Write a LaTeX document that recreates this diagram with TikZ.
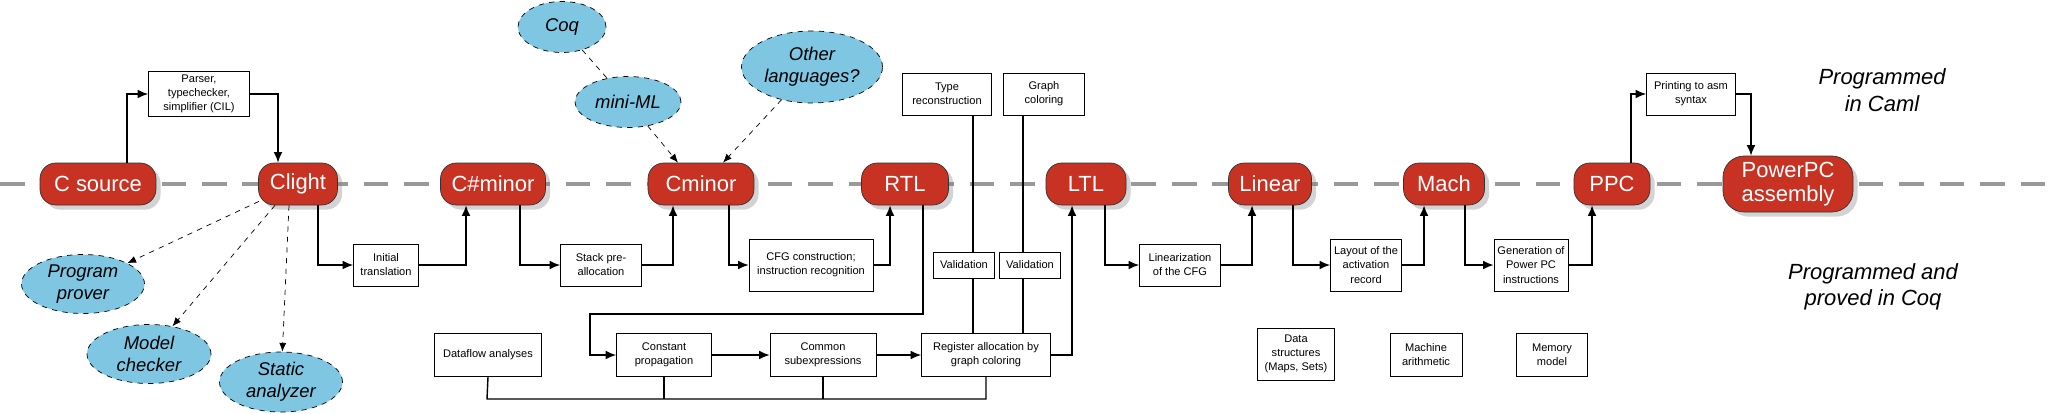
\documentclass[tikz,border=0pt]{standalone}
\usepackage{fontspec}
\setmainfont{Liberation Sans}
\usetikzlibrary{positioning,calc,shadows,shapes.geometric,arrows.meta}
\definecolor{langred}{HTML}{C73222}
\definecolor{toolblue}{HTML}{7EC6E2}

\begin{document}
\begin{tikzpicture}[
	x=0.02cm, y=-0.02cm,
	lang/.style={draw=black!80, fill=langred, text=white, rounded corners=9pt,
		minimum height=0.84cm, inner xsep=6pt, font=\fontsize{12.5}{13.5}\selectfont,
		drop shadow={opacity=0.35}, align=center},
	pass/.style={draw, fill=white, thin, align=center, inner sep=2pt,
		minimum height=0.84cm, font=\fontsize{6.3}{8}\selectfont},
	tool/.style={ellipse, draw, dashed, fill=toolblue, inner sep=0pt,
		align=center, font=\itshape\fontsize{10.5}{12.5}\selectfont},
	flow/.style={-{Latex[length=6pt,width=5pt]}, thick},
	use/.style={-{Latex[length=5pt,width=4pt]}, dashed, thin},
	]

	% the line between the two parts
	\useasboundingbox (0,0) rectangle (2048,413);
	\draw[gray!80, line width=2.5pt, dash pattern=on 14pt off 9pt] (0,184) -- (2048,184);

	% languages
	\node[lang, minimum width=2.32cm] (csrc) at (98,184) {C source};
	\node[lang, minimum width=1.58cm] (clight) at (298,184) {Clight};
	\node[lang, minimum width=2.1cm] (cshm) at (493,184) {C\#minor};
	\node[lang, minimum width=2.12cm] (cminor) at (701,184) {Cminor};
	\node[lang, minimum width=1.74cm] (rtl) at (905,184) {RTL};
	\node[lang, minimum width=1.6cm] (ltl) at (1086,184) {LTL};
	\node[lang, minimum width=1.66cm] (linear) at (1270,184) {Linear};
	\node[lang, minimum width=1.62cm] (mach) at (1444,184) {Mach};
	\node[lang, minimum width=1.52cm] (ppc) at (1612,184) {PPC};
	\node[lang, minimum width=2.6cm, minimum height=1.12cm, rounded corners=12pt] (asm) at (1788,184) {PowerPC\\assembly};

	% passes in Caml
	\node[pass, minimum width=2.02cm] (parser) at (199,94) {Parser,\\typechecker,\\simplifier (CIL)};
	\node[pass, minimum width=1.78cm] (printing) at (1691,94) {Printing to asm\\syntax};
	\node[pass, minimum width=1.78cm] (typerec) at (947,94) {Type\\reconstruction};
	\node[pass, minimum width=1.62cm] (graphcol) at (1044,94) {Graph\\coloring};

	% passes in Coq
	\node[pass, minimum width=1.3cm] (inittr) at (386,265) {Initial\\translation};
	\node[pass, minimum width=1.62cm] (stack) at (601,265) {Stack pre-\\allocation};
	\node[pass, minimum width=2.48cm, minimum height=1.04cm] (cfg) at (811,265) {CFG construction;\\instruction recognition};
	\node[pass, minimum width=1.62cm] (lin) at (1180,265) {Linearization\\of the CFG};
	\node[pass, minimum width=1.42cm, minimum height=1.04cm] (layout) at (1366,265) {Layout of the\\activation\\record};
	\node[pass, minimum width=1.42cm, minimum height=1.04cm] (gen) at (1531,265) {Generation of\\Power PC\\instructions};

	\node[pass, minimum width=2.14cm, minimum height=0.86cm] (dataflow) at (488,355) {Dataflow analyses};
	\node[pass, minimum width=1.9cm, minimum height=0.86cm] (constprop) at (664,355) {Constant\\propagation};
	\node[pass, minimum width=2.12cm, minimum height=0.86cm] (cse) at (823,355) {Common\\subexpressions};
	\node[pass, minimum width=2.58cm, minimum height=0.86cm] (regalloc) at (986,355) {Register allocation by\\graph coloring};

	\node[pass, minimum width=1.54cm, minimum height=1.04cm] (datastr) at (1296,354) {Data\\structures\\(Maps, Sets)};
	\node[pass, minimum width=1.44cm, minimum height=0.86cm] (arith) at (1426,355) {Machine\\arithmetic};
	\node[pass, minimum width=1.42cm, minimum height=0.86cm] (memory) at (1552,355) {Memory\\model};

	% validators
	\draw[thick] (typerec.south -| 973,0) -- (regalloc.north -| 973,0);
	\draw[thick] (graphcol.south -| 1023,0) -- (regalloc.north -| 1023,0);
	\node[pass, minimum width=1.22cm, minimum height=0.52cm] (valid1) at (964,265) {Validation};
	\node[pass, minimum width=1.22cm, minimum height=0.52cm] (valid2) at (1030,265) {Validation};

	% tools
	\node[tool, minimum width=1.76cm, minimum height=1.02cm] (coq) at (562,27) {Coq};
	\node[tool, minimum width=2.12cm, minimum height=1.02cm] (miniml) at (628,102) {mini-ML};
	\node[tool, minimum width=2.82cm, minimum height=1.44cm] (other) at (812,67) {Other\\languages?};
	\node[tool, minimum width=2.46cm, minimum height=1.18cm] (prover) at (83,284) {Program\\prover};
	\node[tool, minimum width=2.48cm, minimum height=1.18cm] (checker) at (149,354) {Model\\checker};
	\node[tool, minimum width=2.46cm, minimum height=1.2cm] (static) at (281,382) {Static\\analyzer};

	\draw[dashed, thin] (coq) -- (miniml);
	\draw[use] (miniml) -- ($(cminor.north)+(-23,0)$);
	\draw[use] (other) -- ($(cminor.north)+(22,0)$);
	\draw[use] ($(clight.south)+(-39,-4)$) -- (prover);
	\draw[use] ($(clight.south)+(-23,0)$) -- (checker);
	\draw[use] ($(clight.south)+(-9,0)$) -- (static);

	% compilation chain
	\draw[flow] ($(csrc.north)+(29,0)$) |- (parser.west);
	\draw[flow] (parser.east) -| ($(clight.north)+(-20,0)$);
	\draw[flow] ($(clight.south)+(20,0)$) |- (inittr.west);
	\draw[flow] (inittr.east) -| ($(cshm.south)+(-27,0)$);
	\draw[flow] ($(cshm.south)+(27,0)$) |- (stack.west);
	\draw[flow] (stack.east) -| ($(cminor.south)+(-28,0)$);
	\draw[flow] ($(cminor.south)+(28,0)$) |- (cfg.west);
	\draw[flow] (cfg.east) -| ($(rtl.south)+(-15,0)$);
	\draw[flow] ($(rtl.south)+(18,0)$) |- (590,314) |- (constprop.west);
	\draw[flow] (constprop) -- (cse);
	\draw[flow] (cse) -- (regalloc);
	\draw[flow] (regalloc.east) -| ($(ltl.south)+(-14,0)$);
	\draw[flow] ($(ltl.south)+(19,0)$) |- (lin.west);
	\draw[flow] (lin.east) -| ($(linear.south)+(-18,0)$);
	\draw[flow] ($(linear.south)+(23,0)$) |- (layout.west);
	\draw[flow] (layout.east) -| ($(mach.south)+(-20,0)$);
	\draw[flow] ($(mach.south)+(21,0)$) |- (gen.west);
	\draw[flow] (gen.east) -| ($(ppc.south)+(-20,0)$);
	\draw[flow] ($(ppc.north)+(19,0)$) |- (printing.west);
	\draw[flow] (printing.east) -| ($(asm.north)+(-37,0)$);

	% dataflow analyses used by the optimizations
	\draw[thick] (dataflow.south) -- (487,399) -| (regalloc.south);
	\draw[thick] (constprop.south) -- (constprop.south |- 0,399);
	\draw[thick] (cse.south) -- (cse.south |- 0,399);

	% the two parts
	\node[font=\itshape\fontsize{12.5}{15}\selectfont, align=center] (caml) at (1882,90) {Programmed\\in Caml};
	\node[font=\itshape\fontsize{12.5}{15}\selectfont, align=center] (coqpart) at (1873,287) {Programmed and\\proved in Coq};
\end{tikzpicture}
\end{document}
